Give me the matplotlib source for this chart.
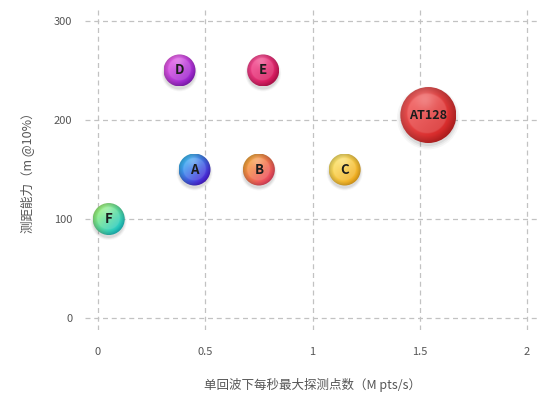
import matplotlib
matplotlib.use('Agg')
import matplotlib.pyplot as plt
import numpy as np
from matplotlib.patches import Circle
from matplotlib.transforms import Affine2D, ScaledTranslation

plt.rcParams['font.family'] = ['Noto Sans CJK SC', 'DejaVu Sans']

# datos
names = ['A', 'B', 'C', 'D', 'E', 'F', 'AT128']
pts = [0.45, 0.75, 1.15, 0.38, 0.77, 0.05, 1.54]
rango = [150, 150, 150, 250, 250, 100, 205]
tam = [16, 16, 16, 16, 16, 16, 28]
col_claro = ['#3cb6f6', '#f7a43e', '#fde468', '#e45ae6', '#f4468e', '#98f27c', '#f25656']
col_oscuro = ['#4a1ed4', '#ec4660', '#f0aa1c', '#9420cc', '#d4165a', '#1ec6c6', '#d42626']

xticks = [0, 0.5, 1, 1.5, 2]
xtick_labels = ['0', '0.5', '1', '1.5', '2']
yticks = [0, 100, 200, 300]

fig = plt.figure(figsize=(5.53, 4.05), dpi=100)
ax = fig.add_axes([85 / 553, 75 / 405, 455 / 553, 320 / 405])
ax.set_xlim(-0.0606, 2.0606)
ax.set_ylim(-12, 311)
ax.set_autoscale_on(False)
for s in ax.spines.values():
    s.set_visible(False)
ax.set_xticks(xticks)
ax.set_xticklabels(xtick_labels)
ax.set_yticks(yticks)
ax.tick_params(length=0, colors='#555555', labelsize=8)
ax.tick_params(axis='y', pad=9)
ax.tick_params(axis='x', pad=12)
ax.grid(True, color='#c2c2c2', linestyle=(0, (4, 3)), linewidth=0.9)
ax.set_axisbelow(True)

ax.set_xlabel('单回波下每秒最大探测点数（M pts/s）', color='#555555', fontsize=9, labelpad=15)
ax.set_ylabel('测距能力（m @10%）', color='#555555', fontsize=9, labelpad=14)


def hex_rgb(h):
    h = h.lstrip('#')
    return np.array([int(h[i:i + 2], 16) / 255 for i in (0, 2, 4)])


n = 120
u, v = np.meshgrid(np.linspace(-1, 1, n), np.linspace(-1, 1, n))
rho = np.sqrt(u ** 2 + v ** 2)

for i in range(len(names)):
    r = tam[i]
    tr = Affine2D().scale(r) + ScaledTranslation(pts[i], rango[i], ax.transData)
    # sombra
    for k, a in zip([1.12, 1.06, 1.0], [0.05, 0.07, 0.10]):
        trs = Affine2D().scale(r * k).translate(0, -3) + ScaledTranslation(pts[i], rango[i], ax.transData)
        ax.add_patch(Circle((0, 0), 1, transform=trs, facecolor='#555555', alpha=a, edgecolor='none', zorder=2))
    c1 = hex_rgb(col_claro[i])
    c2 = hex_rgb(col_oscuro[i])
    t = np.clip((u - v) / 2.6 + 0.5, 0, 1)
    img = c1[None, None, :] * (1 - t[..., None]) + c2[None, None, :] * t[..., None]
    # borde más oscuro
    borde = np.clip((rho - 0.72) / 0.28, 0, 1)
    img = img * (1 - 0.2 * borde[..., None])
    # disco interior más claro
    rin = np.sqrt((u + 0.03) ** 2 + (v - 0.06) ** 2)
    dentro = np.clip((0.74 - rin) / 0.05, 0, 1)
    img = img + (1 - img) * 0.14 * dentro[..., None]
    # brillo arriba
    brillo = np.exp(-((u + 0.1) ** 2 + (v - 0.55) ** 2) / 0.12)
    img = img + (1 - img) * 0.2 * brillo[..., None]
    img = np.clip(img, 0, 1)
    im = ax.imshow(img, origin='lower', extent=(-1, 1, -1, 1), interpolation='bilinear',
                   aspect='auto', zorder=3)
    im.set_transform(tr)
    clip = Circle((0, 0), 1, transform=tr, facecolor='none', edgecolor='none')
    ax.add_patch(clip)
    im.set_clip_path(clip)
    fs = 9 if len(names[i]) > 1 else 9.5
    ax.text(pts[i], rango[i], names[i], ha='center', va='center', fontsize=fs,
            fontweight='bold', color='#1c1c1c', zorder=4)

ax.set_aspect('auto')
ax.set_xlim(-0.0606, 2.0606)
ax.set_ylim(-12, 311)
fig.savefig('out.png', dpi=100)
